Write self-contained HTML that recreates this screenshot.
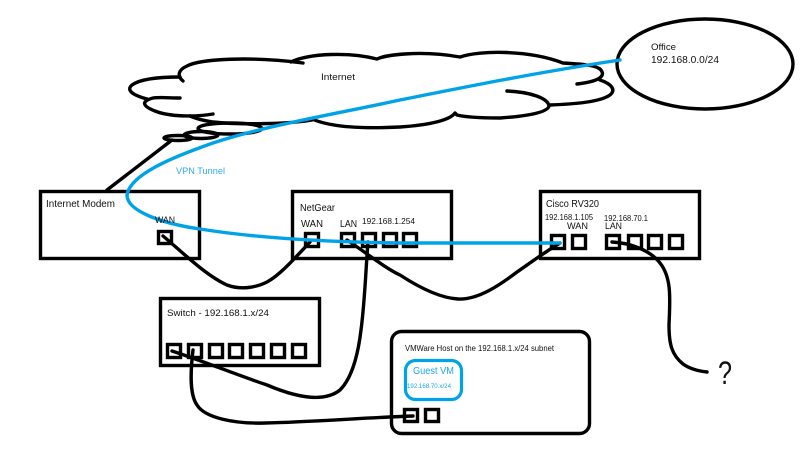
<!DOCTYPE html>
<html>
<head>
<meta charset="utf-8">
<style>
html,body{margin:0;padding:0;background:#fff;width:800px;height:450px;overflow:hidden}
svg{display:block;filter:blur(0.3px)}
text{font-family:"Liberation Sans",sans-serif;fill:#111}
.k{fill:none;stroke:#000;stroke-width:3.4;stroke-linecap:round;stroke-linejoin:round}
.p{fill:#fff;stroke:#000;stroke-width:3.4}
.b{fill:none;stroke:#00a2e8;stroke-width:3.4;stroke-linecap:round}
</style>
</head>
<body>
<svg width="800" height="450" viewBox="0 0 800 450" xmlns="http://www.w3.org/2000/svg">
<!-- Cloud -->
<path class="k" d="M183,81 C177,76 178,70 187,66 C200,59 250,56 303,63"/>
<path class="k" d="M291,62 C310,53 350,52 377,59 C385,55 420,50 460,57 C480,50 530,50 563,63 C580,64 595,65 600,69 C606,75 602,81 577,84"/>
<path class="k" d="M600,80 C612,84 616,90 610,95 C600,102 575,104 550,105"/>
<path class="k" d="M507,91 C530,92 548,98 549,106 C548,112 530,116 500,118 C480,118 465,117 457,115 L455,113 C450,120 430,125 400,127 C360,129 330,127 312,119"/>
<path class="k" d="M312,120 C290,124 240,125 213,122 C200,120 195,118 190,116"/>
<path class="k" d="M213,114 C195,117 170,117 155,111 C142,106 141,101 153,98 C160,97 170,98 180,98"/>
<path class="k" d="M147,99 C132,95 126,90 132,85 C140,79 160,77 180,77"/>
<ellipse class="k" cx="230" cy="128.500" rx="32" ry="5.500"/>
<ellipse class="k" cx="201" cy="135" rx="17" ry="3.500"/>
<ellipse class="k" cx="178" cy="138" rx="14" ry="2.500"/>
<line class="k" x1="172" y1="140" x2="107" y2="190"/>
<!-- Office -->
<ellipse class="k" cx="705" cy="64" rx="88" ry="45"/>
<!-- Boxes -->
<rect class="k" x="40.500" y="191.500" width="159" height="67" style="stroke-linejoin:miter"/>
<rect class="k" x="292.500" y="191.500" width="159" height="67" style="stroke-linejoin:miter"/>
<rect class="k" x="540.500" y="191.500" width="159" height="67" style="stroke-linejoin:miter"/>
<rect class="k" x="160.500" y="298.500" width="159" height="67" style="stroke-linejoin:miter"/>
<rect class="k" x="391.500" y="331.500" width="198" height="102" rx="10"/>
<rect x="405.500" y="360.500" width="56" height="39" rx="10" fill="none" stroke="#00a2e8" stroke-width="3.200"/>
<!-- Ports -->
<rect class="p" x="158.500" y="231.500" width="13" height="12"/>
<rect class="p" x="305.500" y="233.500" width="13" height="13"/>
<rect class="p" x="341.500" y="233.500" width="13" height="13"/>
<rect class="p" x="362.500" y="233.500" width="13" height="13"/>
<rect class="p" x="383.500" y="233.500" width="13" height="13"/>
<rect class="p" x="403.500" y="233.500" width="13" height="13"/>
<rect class="p" x="551.500" y="235.500" width="13" height="13"/>
<rect class="p" x="572.500" y="235.500" width="13" height="13"/>
<rect class="p" x="606.500" y="235.500" width="13" height="13"/>
<rect class="p" x="628.500" y="235.500" width="13" height="13"/>
<rect class="p" x="648.500" y="235.500" width="13" height="13"/>
<rect class="p" x="669.500" y="235.500" width="13" height="13"/>
<rect class="p" x="167.500" y="344.500" width="13" height="13"/>
<rect class="p" x="188.500" y="344.500" width="13" height="13"/>
<rect class="p" x="209.500" y="344.500" width="13" height="13"/>
<rect class="p" x="229.500" y="344.500" width="13" height="13"/>
<rect class="p" x="250.500" y="344.500" width="13" height="13"/>
<rect class="p" x="271.500" y="344.500" width="13" height="13"/>
<rect class="p" x="292.500" y="344.500" width="13" height="13"/>
<rect class="p" x="404.500" y="409.500" width="13" height="12"/>
<rect class="p" x="425.500" y="409.500" width="13" height="12"/>
<!-- Cables -->
<path class="k" d="M163,236 C180,250 205,275 227,285 C240,290 255,288 267,282 C280,275 295,258 310,242"/>
<path class="k" d="M347,240 C365,252 385,268 400,275 C420,288 440,298 458,299 C478,300 500,285 517,272 C530,263 545,252 560,243"/>
<path class="k" d="M368,242 C366,265 365,300 361,330 C358,355 352,378 340,390 C325,402 300,399 267,385 C240,376 200,360 172,351"/>
<path class="k" d="M193,350 C190,375 190,395 197,405 C205,418 235,424 265,423 C310,422 360,418 413,416"/>
<path class="k" d="M612,242 C630,243 650,250 660,263 C672,278 670,300 669,325 C669,345 672,355 683,364 C690,369 698,371 707,372"/>
<!-- VPN -->
<path class="b" d="M620,60 C540,72 470,86 400,100 C330,115 260,127 213,143 C170,158 130,175 127,195 C127,212 165,224 200,229 C250,237 320,242 400,243 C450,243 510,243 560,243"/>
<!-- Labels -->
<text x="321" y="80" font-size="9.500" textLength="34" lengthAdjust="spacingAndGlyphs">Internet</text>
<text x="651" y="50" font-size="9.500" textLength="25" lengthAdjust="spacingAndGlyphs">Office</text>
<text x="651" y="63" font-size="10" textLength="68" lengthAdjust="spacingAndGlyphs">192.168.0.0/24</text>
<text x="176" y="174" font-size="9.500" textLength="49" lengthAdjust="spacingAndGlyphs" style="fill:#2fa9ec">VPN Tunnel</text>
<text x="46" y="207" font-size="10.500" textLength="69" lengthAdjust="spacingAndGlyphs">Internet Modem</text>
<text x="155" y="223" font-size="9.500" textLength="20" lengthAdjust="spacingAndGlyphs">WAN</text>
<text x="300" y="211" font-size="10.500" textLength="35" lengthAdjust="spacingAndGlyphs">NetGear</text>
<text x="301" y="227" font-size="10" textLength="22" lengthAdjust="spacingAndGlyphs">WAN</text>
<text x="340" y="227" font-size="10" textLength="17" lengthAdjust="spacingAndGlyphs">LAN</text>
<text x="362" y="224" font-size="8" textLength="53" lengthAdjust="spacingAndGlyphs">192.168.1.254</text>
<text x="546" y="207" font-size="10.500" textLength="53" lengthAdjust="spacingAndGlyphs">Cisco RV320</text>
<text x="545" y="220" font-size="8" textLength="48" lengthAdjust="spacingAndGlyphs">192.168.1.105</text>
<text x="604" y="221" font-size="8" textLength="44" lengthAdjust="spacingAndGlyphs">192.168.70.1</text>
<text x="567" y="229" font-size="9.500" textLength="21" lengthAdjust="spacingAndGlyphs">WAN</text>
<text x="605" y="229" font-size="9.500" textLength="17" lengthAdjust="spacingAndGlyphs">LAN</text>
<text x="167" y="316" font-size="9.500" textLength="102" lengthAdjust="spacingAndGlyphs">Switch - 192.168.1.x/24</text>
<text x="405" y="351" font-size="8" textLength="149" lengthAdjust="spacingAndGlyphs">VMWare Host on the 192.168.1.x/24 subnet</text>
<text x="413" y="374" font-size="10" textLength="41" lengthAdjust="spacingAndGlyphs" style="fill:#1aa7ea">Guest VM</text>
<text x="407" y="388" font-size="6" textLength="44" lengthAdjust="spacingAndGlyphs" style="fill:#1aa7ea">192.168.70.x/24</text>
<text x="718" y="384" font-size="32" textLength="14" lengthAdjust="spacingAndGlyphs">?</text>
</svg>
</body>
</html>
